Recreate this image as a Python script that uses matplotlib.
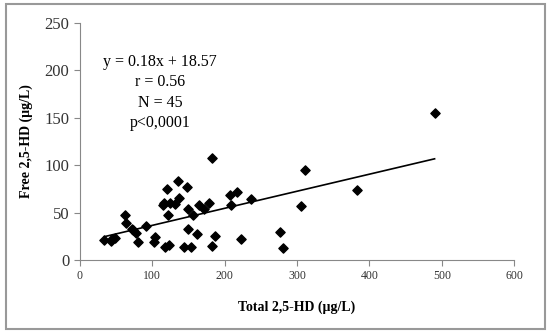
import matplotlib
matplotlib.use('Agg')
import matplotlib.pyplot as plt
from matplotlib.patches import Rectangle
import numpy as np

# Total vs free 2,5-HD (ug/L)
total_hd = [34, 43, 45, 48, 63, 64, 72, 74, 77, 80, 91, 104, 103, 115, 117,
            118, 121, 122, 123, 125, 132, 135, 137, 144, 148, 149, 149, 154,
            156, 162, 164, 172, 179, 183, 183, 187, 208, 209, 217, 223, 237,
            276, 281, 306, 311, 383, 490]
free_hd = [21.4, 19.6, 22, 23.8, 47.7, 39.6, 33, 31.2, 28.4, 18.6, 36, 24.5,
           18.6, 58.2, 60.7, 14, 75.4, 47, 15.8, 60.7, 59.6, 83.1, 65.6, 14,
           77.1, 53.6, 32.6, 14, 47.7, 28, 57.9, 54.3, 60.7, 15, 107.3, 25.2,
           69, 58.2, 71.9, 22.4, 64.9, 29.8, 12.3, 57.2, 95, 73.6, 154.6]

slope, intercept = 0.18, 18.57
stats_lines = ["y = 0.18x + 18.57", "r = 0.56", "N = 45", "p<0,0001"]

x_ticks = [0, 100, 200, 300, 400, 500, 600]
y_ticks = [0, 50, 100, 150, 200, 250]

plt.rcParams['font.family'] = ['Liberation Serif', 'DejaVu Serif']

fig = plt.figure(figsize=(5.5, 3.33), dpi=100)
ax = fig.add_axes([0.145, 0.219, 0.79, 0.712])

ax.scatter(total_hd, free_hd, marker='D', s=22, color='black', zorder=3)

fit_x = np.array([min(total_hd), max(total_hd)])
ax.plot(fit_x, slope * fit_x + intercept, color='black', lw=1.2)

ax.set_xlim(0, 600)
ax.set_ylim(0, 250)
ax.set_xticks(x_ticks)
ax.set_yticks(y_ticks)

for side in ['top', 'right']:
    ax.spines[side].set_visible(False)
for side in ['left', 'bottom']:
    ax.spines[side].set_color('#888888')
ax.tick_params(axis='x', colors='#888888', labelcolor='#333333', labelsize=8.5,
               length=4, direction='out')
ax.tick_params(axis='y', colors='#888888', labelcolor='#333333', labelsize=12,
               length=4, direction='out')

ax.set_xlabel('Total 2,5-HD (µg/L)', fontsize=10, fontweight='bold', labelpad=13)
ax.set_ylabel('Free 2,5-HD (µg/L)', fontsize=10, fontweight='bold', labelpad=8)

ax.text(111, 217, "\n".join(stats_lines), ha='center', va='top',
        fontsize=11.5, linespacing=1.35)

# grey frame around the whole picture
fig.patches.append(Rectangle((0.01, 0.012), 0.98, 0.976, transform=fig.transFigure,
                             fill=False, edgecolor='#999999', lw=1.5))

fig.savefig('out.png', dpi=100)
